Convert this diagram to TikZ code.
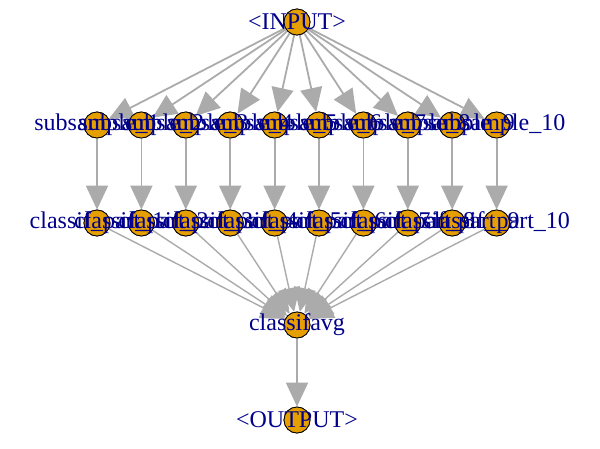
\documentclass[tikz,border=0pt]{standalone}
\usepackage{fontspec}
\setmainfont{Liberation Serif}
\usetikzlibrary{arrows.meta}
\definecolor{vfill}{HTML}{E69F00}
\definecolor{ecol}{HTML}{ABABAB}
\definecolor{lcol}{HTML}{00008B}
\begin{document}
\begin{tikzpicture}[x=1pt,y=-1pt,
  vert/.style={circle,draw=black,line width=0.8pt,fill=vfill,minimum size=26pt,inner sep=0pt},
  lbl/.style={text=lcol,font=\fontsize{24}{26}\selectfont,inner sep=0pt},
  edge/.style={draw=ecol,line width=1.8pt,-{Triangle[length=24pt,width=22pt]}},
  fedge/.style={draw=ecol,line width=1.4pt,-{Triangle[length=24pt,width=22pt]}}]
\useasboundingbox (0,0) rectangle (600,448);
\node[vert] (in) at (297,22) {};
\node[vert] (avg) at (297,325) {};
\node[vert] (out) at (297,420) {};
\foreach \i in {1,...,10}{
  \pgfmathsetmacro{\xx}{97+(\i-1)*44.4}
  \node[vert] (s\i) at (\xx,125) {};
  \node[vert] (c\i) at (\xx,223) {};
}
\foreach \i in {1,...,10}{
  \path[edge] (in) -- (s\i);
  \path[edge] (s\i) -- (c\i);
  \path[fedge] (c\i) -- (avg);
}
\path[edge] (avg) -- (out);
\node[vert] at (in) {};
\node[vert] at (avg) {};
\node[vert] at (out) {};
\foreach \i in {1,...,10}{
  \node[vert] at (s\i) {};
  \node[vert] at (c\i) {};
}
\node[lbl] (lin) at (in) {<INPUT>};
\node[lbl] (lavg) at (avg) {classifavg};
\node[lbl] (lout) at (out) {<OUTPUT>};
\foreach \i in {1,...,10}{
  \node[lbl] (ls\i) at (s\i) {subsample\_\i};
  \node[lbl] (lc\i) at (c\i) {classif\_part\_\i};
}
\end{tikzpicture}
\end{document}
